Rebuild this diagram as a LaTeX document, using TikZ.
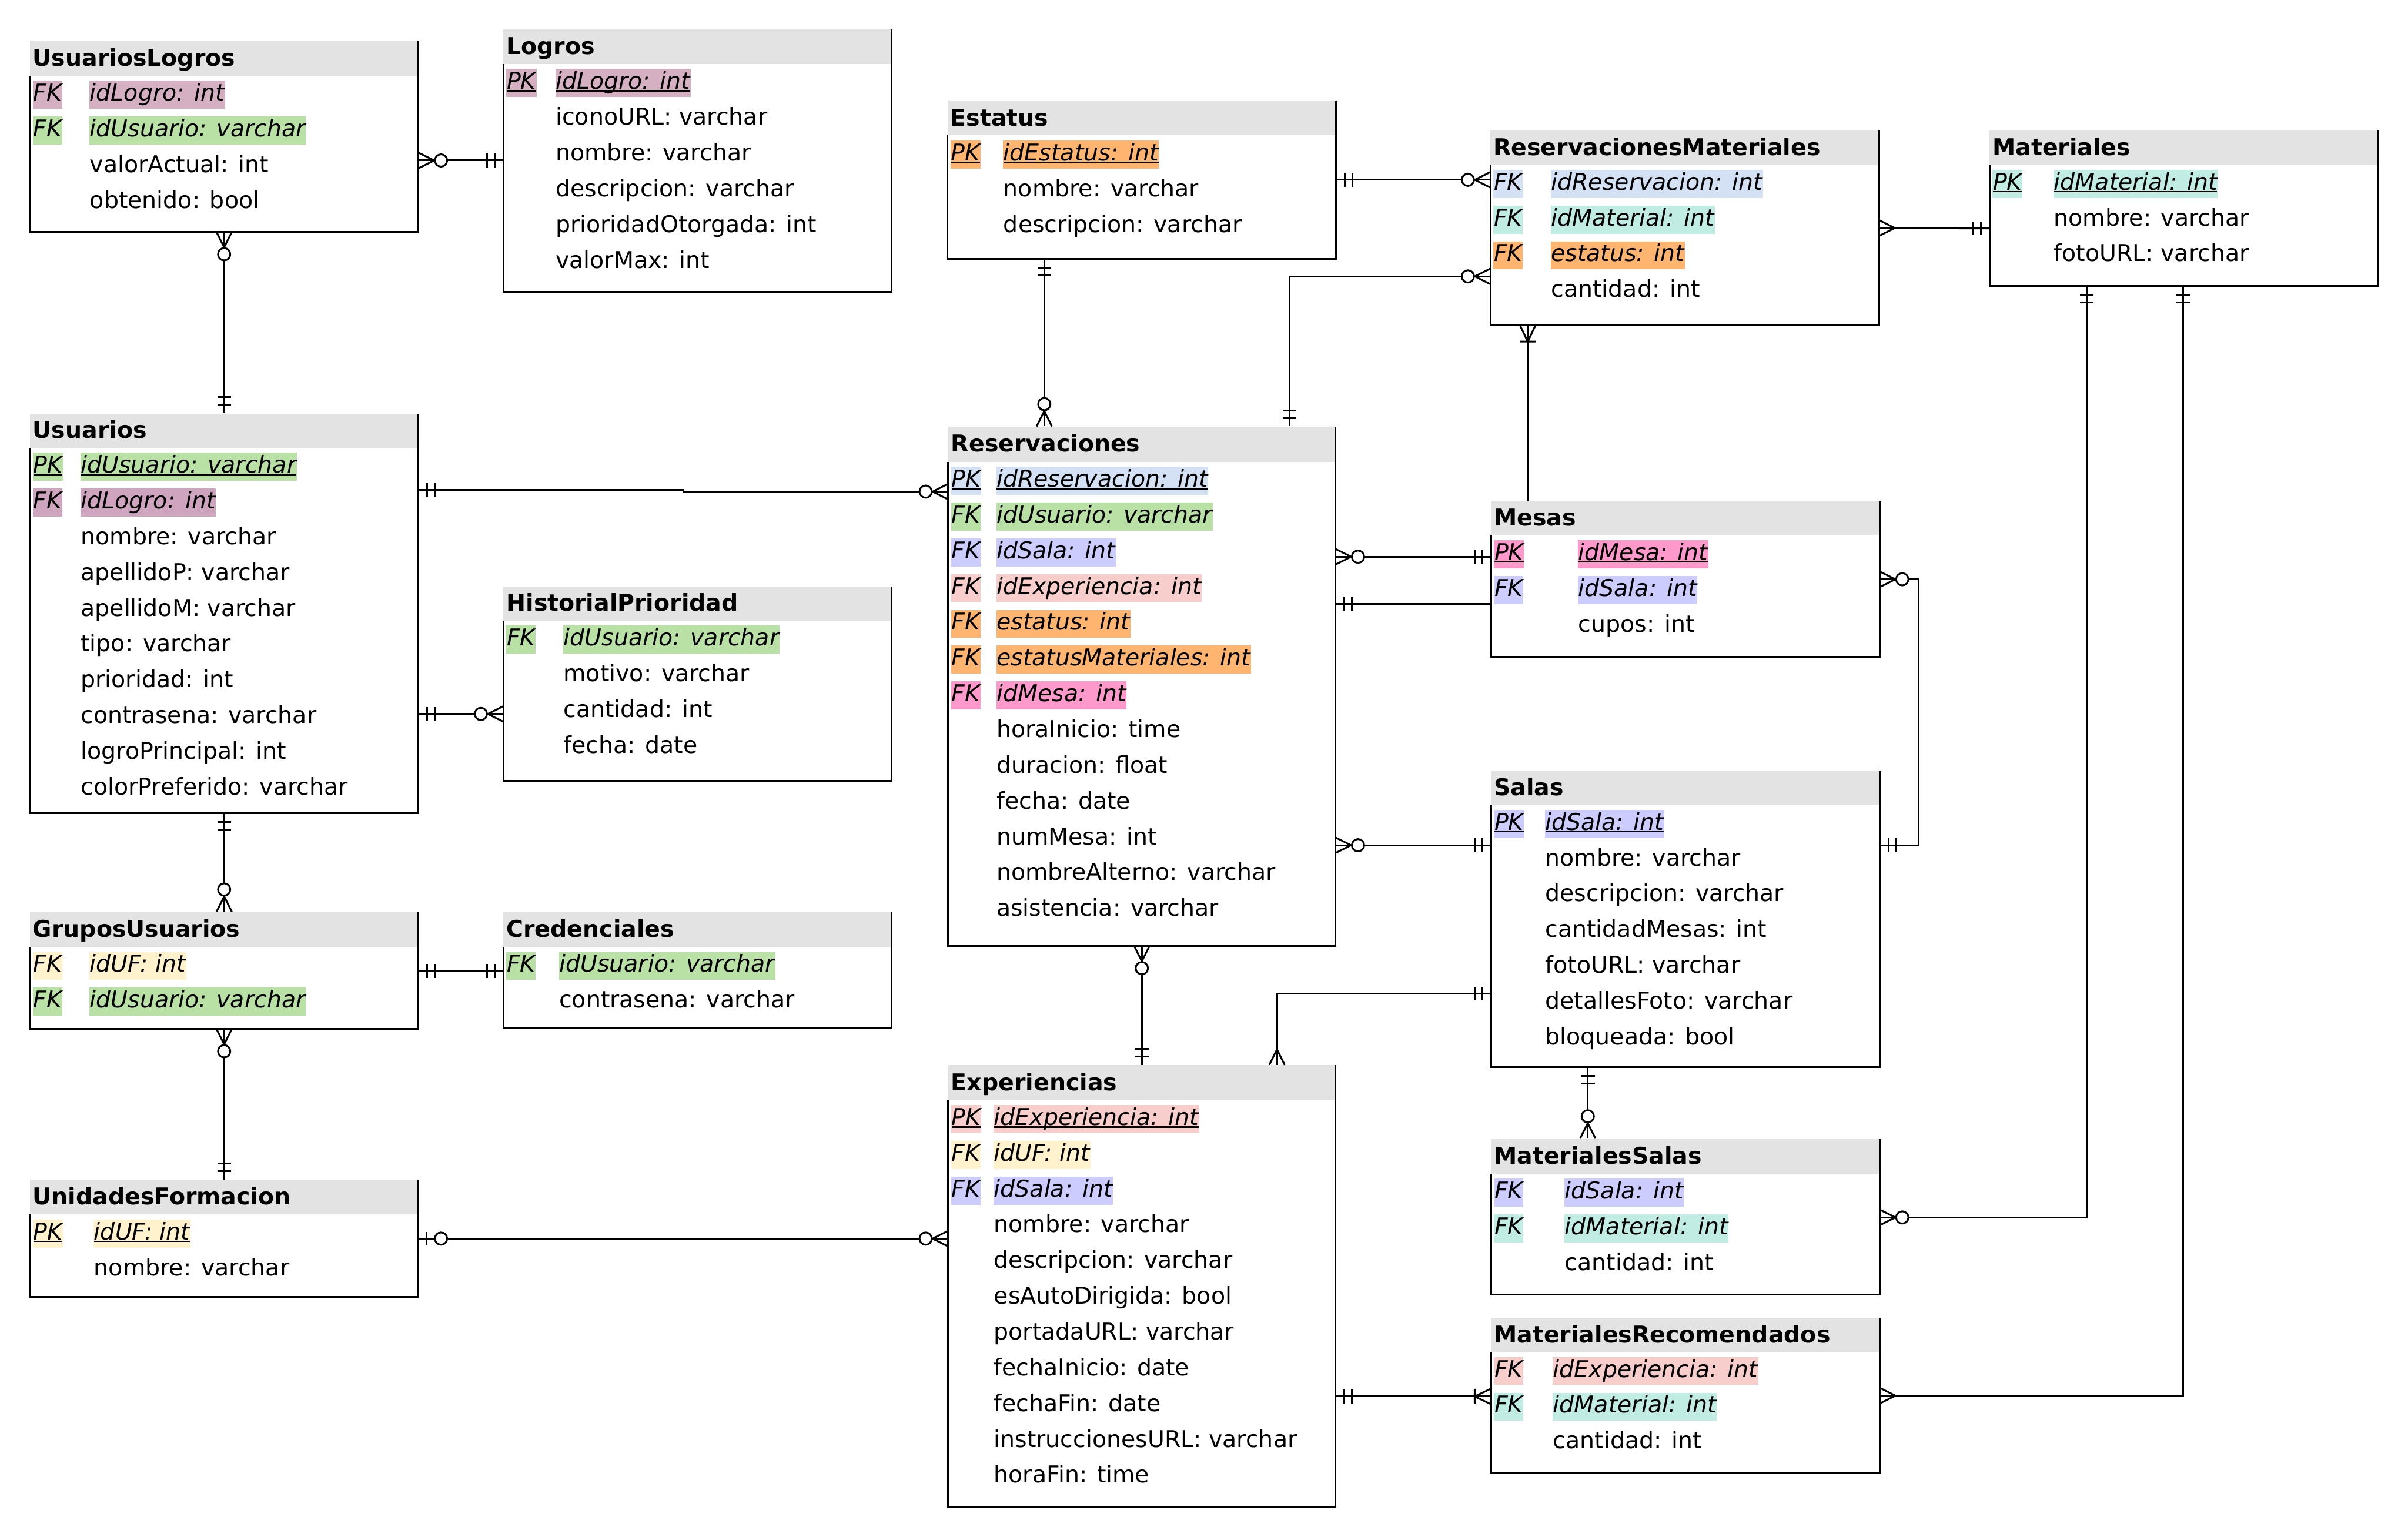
\documentclass[tikz,border=0pt]{standalone}
\usepackage{fontspec}
\setmainfont{DejaVu Sans}
\usetikzlibrary{fit}
\definecolor{hdr}{HTML}{E3E3E3}
\definecolor{logro}{HTML}{D5B0C3}
\definecolor{logrob}{HTML}{CEA4BF}
\definecolor{grn}{HTML}{B9E0A5}
\definecolor{lblue}{HTML}{D4E1F5}
\definecolor{lav}{HTML}{CCCCFF}
\definecolor{salmon}{HTML}{F8CECC}
\definecolor{orng}{HTML}{FFB570}
\definecolor{hpink}{HTML}{FF99CC}
\definecolor{mint}{HTML}{C0ECE3}
\definecolor{cream}{HTML}{FFF2CC}
\newcounter{cellc}
\newcommand\pkline[1]{\setbox0\hbox{#1}\rlap{\rule[-1.8pt]{\wd0}{1.2pt}}\box0}
\tikzset{
  bd/.style={line width=1.4pt, black, line join=miter},
  cn/.style={line width=1.3pt, black},
  cell/.style={anchor=west, yshift=-1.6pt, inner xsep=0.3pt, inner ysep=2pt, text height=12.8pt, text depth=3.8pt, font=\fontsize{17}{20}\selectfont},
  ttl/.style={anchor=west, yshift=-1.2pt, inner sep=0pt, text height=12.8pt, text depth=3.8pt, font=\fontsize{17}{20}\selectfont\bfseries},
  pics/mone/.style={code={\draw[cn] (5.5,-4.5)--(5.5,4.5) (10.5,-4.5)--(10.5,4.5);}},
  pics/mmany/.style={code={\draw[cn] (0,-5)--(10,0)--(0,5);}},
  pics/mzmany/.style={code={\draw[cn] (0,-5)--(10,0)--(0,5); \draw[cn,fill=white] (14.5,0) circle[radius=4];}},
  pics/monemany/.style={code={\draw[cn] (0,-5)--(10.5,0)--(0,5) (10.5,-5)--(10.5,5);}},
  pics/mzone/.style={code={\draw[cn] (5,-4.5)--(5,4.5); \draw[cn,fill=white] (14.5,0) circle[radius=4];}},
}
% #1 name, #2 left, #3 top, #4 right, #5 header bottom, #6 bottom, #7 title
\newcommand\ertable[7]{%
  \fill[hdr] (#2,#3) rectangle (#4,#5);
  \draw[bd] (#2,#5) -- (#2,#6) -- (#4,#6) -- (#4,#3);
  \node[inner sep=0pt, fit={(#2,#3)(#4,#6)}] (#1) {};
  \node[ttl] (#1-title) at ({#2+1.8}, {(#3+#5)/2}) {#7};
}
% key x, name x, y, colour, key, name
\newcommand\hrow[6]{%
  \stepcounter{cellc}\node[cell, fill=#4] (k-\arabic{cellc}) at (#1,#3) {\itshape #5};
  \node[cell, fill=#4] (n-\arabic{cellc}) at (#2,#3) {\itshape #6};}
\newcommand\pkrow[6]{%
  \stepcounter{cellc}\node[cell, fill=#4] (k-\arabic{cellc}) at (#1,#3) {\itshape\pkline{#5}};
  \node[cell, fill=#4] (n-\arabic{cellc}) at (#2,#3) {\itshape\pkline{#6}};}
\newcommand\prow[3]{%
  \stepcounter{cellc}\node[cell] (p-\arabic{cellc}) at (#1,#2) {#3};}

\begin{document}
\begin{tikzpicture}[x=0.03957cm, y=-0.03957cm]
\useasboundingbox (0,0) rectangle (1568,1000.7);

% ---------- tables ----------
\ertable{UL}{19.4}{26.5}{272.5}{49.2}{150.9}{UsuariosLogros}
\hrow{21.2}{58.1}{60.2}{logro}{FK}{idLogro: int}
\hrow{21.2}{58.1}{83.5}{grn}{FK}{idUsuario: varchar}
\prow{58.1}{106.8}{valorActual: int}
\prow{58.1}{130.1}{obtenido: bool}

\ertable{LO}{327.8}{19}{580.5}{41.7}{190}{Logros}
\pkrow{329.6}{361.4}{52.7}{logro}{PK}{idLogro: int}
\prow{361.4}{76.0}{iconoURL: varchar}
\prow{361.4}{99.3}{nombre: varchar}
\prow{361.4}{122.6}{descripcion: varchar}
\prow{361.4}{145.9}{prioridadOtorgada: int}
\prow{361.4}{169.2}{valorMax: int}

\ertable{ES}{617}{65.6}{870}{88.2}{168.6}{Estatus}
\pkrow{618.8}{653}{99.2}{orng}{PK}{idEstatus: int}
\prow{653}{122.5}{nombre: varchar}
\prow{653}{145.8}{descripcion: varchar}

\ertable{RM}{970.5}{84.7}{1223.7}{107.3}{211.8}{ReservacionesMateriales}
\hrow{972.3}{1009.6}{118.3}{lblue}{FK}{idReservacion: int}
\hrow{972.3}{1009.6}{141.6}{mint}{FK}{idMaterial: int}
\hrow{972.3}{1009.6}{164.9}{orng}{FK}{estatus: int}
\prow{1009.6}{188.2}{cantidad: int}

\ertable{MA}{1295.5}{84.7}{1548.2}{107.3}{186.3}{Materiales}
\pkrow{1297.3}{1337}{118.3}{mint}{PK}{idMaterial: int}
\prow{1337}{141.6}{nombre: varchar}
\prow{1337}{164.9}{fotoURL: varchar}

\ertable{US}{19.4}{269.4}{272.5}{291.6}{529.7}{Usuarios}
\pkrow{21.2}{52.2}{302.6}{grn}{PK}{idUsuario: varchar}
\hrow{21.2}{52.2}{325.9}{logrob}{FK}{idLogro: int}
\prow{52.2}{349.2}{nombre: varchar}
\prow{52.2}{372.5}{apellidoP: varchar}
\prow{52.2}{395.8}{apellidoM: varchar}
\prow{52.2}{419.1}{tipo: varchar}
\prow{52.2}{442.4}{prioridad: int}
\prow{52.2}{465.7}{contrasena: varchar}
\prow{52.2}{489.0}{logroPrincipal: int}
\prow{52.2}{512.3}{colorPreferido: varchar}

\ertable{HP}{327.8}{381.9}{580.5}{404.1}{508.5}{HistorialPrioridad}
\hrow{329.6}{366.5}{415.1}{grn}{FK}{idUsuario: varchar}
\prow{366.5}{438.4}{motivo: varchar}
\prow{366.5}{461.7}{cantidad: int}
\prow{366.5}{485.0}{fecha: date}

\ertable{RE}{617.4}{277.9}{869.6}{300.7}{615.9}{Reservaciones}
\pkrow{619.2}{648.5}{311.7}{lblue}{PK}{idReservacion: int}
\hrow{619.2}{648.5}{335.0}{grn}{FK}{idUsuario: varchar}
\hrow{619.2}{648.5}{358.3}{lav}{FK}{idSala: int}
\hrow{619.2}{648.5}{381.6}{salmon}{FK}{idExperiencia: int}
\hrow{619.2}{648.5}{404.9}{orng}{FK}{estatus: int}
\hrow{619.2}{648.5}{428.2}{orng}{FK}{estatusMateriales: int}
\hrow{619.2}{648.5}{451.5}{hpink}{FK}{idMesa: int}
\prow{648.5}{474.8}{horaInicio: time}
\prow{648.5}{498.1}{duracion: float}
\prow{648.5}{521.4}{fecha: date}
\prow{648.5}{544.7}{numMesa: int}
\prow{648.5}{568.0}{nombreAlterno: varchar}
\prow{648.5}{591.3}{asistencia: varchar}

\ertable{ME}{970.9}{326.2}{1224}{348.5}{427.7}{Mesas}
\pkrow{972.7}{1027.3}{359.5}{hpink}{PK}{idMesa: int}
\hrow{972.7}{1027.3}{382.8}{lav}{FK}{idSala: int}
\prow{1027.3}{406.1}{cupos: int}

\ertable{SA}{970.9}{501.9}{1224}{524.2}{695}{Salas}
\pkrow{972.7}{1005.8}{535.2}{lav}{PK}{idSala: int}
\prow{1005.8}{558.5}{nombre: varchar}
\prow{1005.8}{581.8}{descripcion: varchar}
\prow{1005.8}{605.1}{cantidadMesas: int}
\prow{1005.8}{628.4}{fotoURL: varchar}
\prow{1005.8}{651.7}{detallesFoto: varchar}
\prow{1005.8}{675.0}{bloqueada: bool}

\ertable{GU}{19.4}{594}{272.5}{616.7}{670}{GruposUsuarios}
\hrow{21.2}{58}{627.7}{cream}{FK}{idUF: int}
\hrow{21.2}{58}{651.0}{grn}{FK}{idUsuario: varchar}

\ertable{CR}{327.8}{594}{580.5}{616.7}{669.5}{Credenciales}
\hrow{329.6}{363.7}{627.7}{grn}{FK}{idUsuario: varchar}
\prow{363.7}{651.0}{contrasena: varchar}

\ertable{UF}{19.4}{768.3}{272.5}{791}{844.8}{UnidadesFormacion}
\pkrow{21.2}{60.8}{802}{cream}{PK}{idUF: int}
\prow{60.8}{825.3}{nombre: varchar}

\ertable{EX}{617.4}{693.7}{869.6}{716.4}{981.3}{Experiencias}
\pkrow{619.2}{646.8}{727.4}{salmon}{PK}{idExperiencia: int}
\hrow{619.2}{646.8}{750.7}{cream}{FK}{idUF: int}
\hrow{619.2}{646.8}{774.0}{lav}{FK}{idSala: int}
\prow{646.8}{797.3}{nombre: varchar}
\prow{646.8}{820.6}{descripcion: varchar}
\prow{646.8}{843.9}{esAutoDirigida: bool}
\prow{646.8}{867.2}{portadaURL: varchar}
\prow{646.8}{890.5}{fechaInicio: date}
\prow{646.8}{913.8}{fechaFin: date}
\prow{646.8}{937.1}{instruccionesURL: varchar}
\prow{646.8}{960.4}{horaFin: time}

\ertable{MS}{970.9}{741.7}{1224}{764.3}{843}{MaterialesSalas}
\hrow{972.7}{1018.5}{775.3}{lav}{FK}{idSala: int}
\hrow{972.7}{1018.5}{798.6}{mint}{FK}{idMaterial: int}
\prow{1018.5}{821.9}{cantidad: int}

\ertable{MR}{970.9}{858.2}{1224}{880.5}{959.6}{MaterialesRecomendados}
\hrow{972.7}{1010.9}{891.5}{salmon}{FK}{idExperiencia: int}
\hrow{972.7}{1010.9}{914.8}{mint}{FK}{idMaterial: int}
\prow{1010.9}{938.1}{cantidad: int}

% ---------- connectors ----------
% UsuariosLogros - Logros
\draw[cn] (UL.east |- 0,104.5) -- (LO.west |- 0,104.5);
\pic at (UL.east |- 0,104.5) {mzmany};
\pic[rotate=180] at (LO.west |- 0,104.5) {mone};
% UsuariosLogros - Usuarios
\draw[cn] (UL.south) -- (US.north);
\pic[rotate=-90] at (UL.south) {mzmany};
\pic[rotate=90] at (US.north) {mone};
% Usuarios - Reservaciones
\draw[cn] (US.east |- 0,319.2) -- (445,319.2) -- (445,320.2) -- (RE.west |- 0,320.2);
\pic at (US.east |- 0,319.2) {mone};
\pic[rotate=180] at (RE.west |- 0,320.2) {mzmany};
% Usuarios - HistorialPrioridad
\draw[cn] (US.east |- 0,465) -- (HP.west |- 0,465);
\pic at (US.east |- 0,465) {mone};
\pic[rotate=180] at (HP.west |- 0,465) {mzmany};
% Usuarios - GruposUsuarios
\draw[cn] (US.south) -- (GU.north);
\pic[rotate=-90] at (US.south) {mone};
\pic[rotate=90] at (GU.north) {mzmany};
% GruposUsuarios - Credenciales
\draw[cn] (GU.east |- 0,632.3) -- (CR.west |- 0,632.3);
\pic at (GU.east |- 0,632.3) {mone};
\pic[rotate=180] at (CR.west |- 0,632.3) {mone};
% GruposUsuarios - UnidadesFormacion
\draw[cn] (GU.south) -- (UF.north);
\pic[rotate=-90] at (GU.south) {mzmany};
\pic[rotate=90] at (UF.north) {mone};
% UnidadesFormacion - Experiencias
\draw[cn] (UF.east |- 0,806.7) -- (EX.west |- 0,806.7);
\pic at (UF.east |- 0,806.7) {mzone};
\pic[rotate=180] at (EX.west |- 0,806.7) {mzmany};
% Estatus - Reservaciones
\draw[cn] (680,0 |- ES.south) -- (680,0 |- RE.north);
\pic[rotate=-90] at (680,0 |- ES.south) {mone};
\pic[rotate=90] at (680,0 |- RE.north) {mzmany};
% Estatus - ReservacionesMateriales
\draw[cn] (ES.east |- 0,117.1) -- (RM.west |- 0,117.1);
\pic at (ES.east |- 0,117.1) {mone};
\pic[rotate=180] at (RM.west |- 0,117.1) {mzmany};
% Reservaciones - ReservacionesMateriales
\draw[cn] (839.6,0 |- RE.north) -- (839.6,180) -- (RM.west |- 0,180);
\pic[rotate=90] at (839.6,0 |- RE.north) {mone};
\pic[rotate=180] at (RM.west |- 0,180) {mzmany};
% ReservacionesMateriales - Materiales
\draw[cn] (RM.east |- 0,148.5) -- (MA.west |- 0,148.8);
\pic at (RM.east |- 0,148.5) {mmany};
\pic[rotate=180] at (MA.west |- 0,148.8) {mone};
% ReservacionesMateriales - Mesas
\draw[cn] (994.8,0 |- RM.south) -- (994.8,0 |- ME.north);
\pic[rotate=-90] at (994.8,0 |- RM.south) {monemany};
% Reservaciones - Mesas
\draw[cn] (RE.east |- 0,362.6) -- (ME.west |- 0,362.6);
\pic at (RE.east |- 0,362.6) {mzmany};
\pic[rotate=180] at (ME.west |- 0,362.6) {mone};
\draw[cn] (RE.east |- 0,393.2) -- (ME.west |- 0,393.2);
\pic at (RE.east |- 0,393.2) {mone};
% Reservaciones - Salas
\draw[cn] (RE.east |- 0,550.5) -- (SA.west |- 0,550.5);
\pic at (RE.east |- 0,550.5) {mzmany};
\pic[rotate=180] at (SA.west |- 0,550.5) {mone};
% Mesas - Salas
\draw[cn] (ME.east |- 0,377.3) -- (1249.2,377.3) -- (1249.2,550.5) -- (SA.east |- 0,550.5);
\pic at (ME.east |- 0,377.3) {mzmany};
\pic at (SA.east |- 0,550.5) {mone};
% Reservaciones - Experiencias
\draw[cn] (RE.south) -- (EX.north);
\pic[rotate=-90] at (RE.south) {mzmany};
\pic[rotate=90] at (EX.north) {mone};
% Salas - Experiencias
\draw[cn] (SA.west |- 0,647.1) -- (831.5,647.1) -- (831.5,0 |- EX.north);
\pic[rotate=180] at (SA.west |- 0,647.1) {mone};
\pic[rotate=90] at (831.5,0 |- EX.north) {mmany};
% Salas - MaterialesSalas
\draw[cn] (1033.9,0 |- SA.south) -- (1033.9,0 |- MS.north);
\pic[rotate=-90] at (1033.9,0 |- SA.south) {mone};
\pic[rotate=90] at (1033.9,0 |- MS.north) {mzmany};
% Materiales - MaterialesSalas
\draw[cn] (1358.8,0 |- MA.south) -- (1358.8,792.9) -- (MS.east |- 0,792.9);
\pic[rotate=-90] at (1358.8,0 |- MA.south) {mone};
\pic at (MS.east |- 0,792.9) {mzmany};
% Materiales - MaterialesRecomendados
\draw[cn] (1421.6,0 |- MA.south) -- (1421.6,909) -- (MR.east |- 0,909);
\pic[rotate=-90] at (1421.6,0 |- MA.south) {mone};
\pic at (MR.east |- 0,909) {mmany};
% Experiencias - MaterialesRecomendados
\draw[cn] (EX.east |- 0,909.5) -- (MR.west |- 0,909.5);
\pic at (EX.east |- 0,909.5) {mone};
\pic[rotate=180] at (MR.west |- 0,909.5) {monemany};
\end{tikzpicture}
\end{document}
